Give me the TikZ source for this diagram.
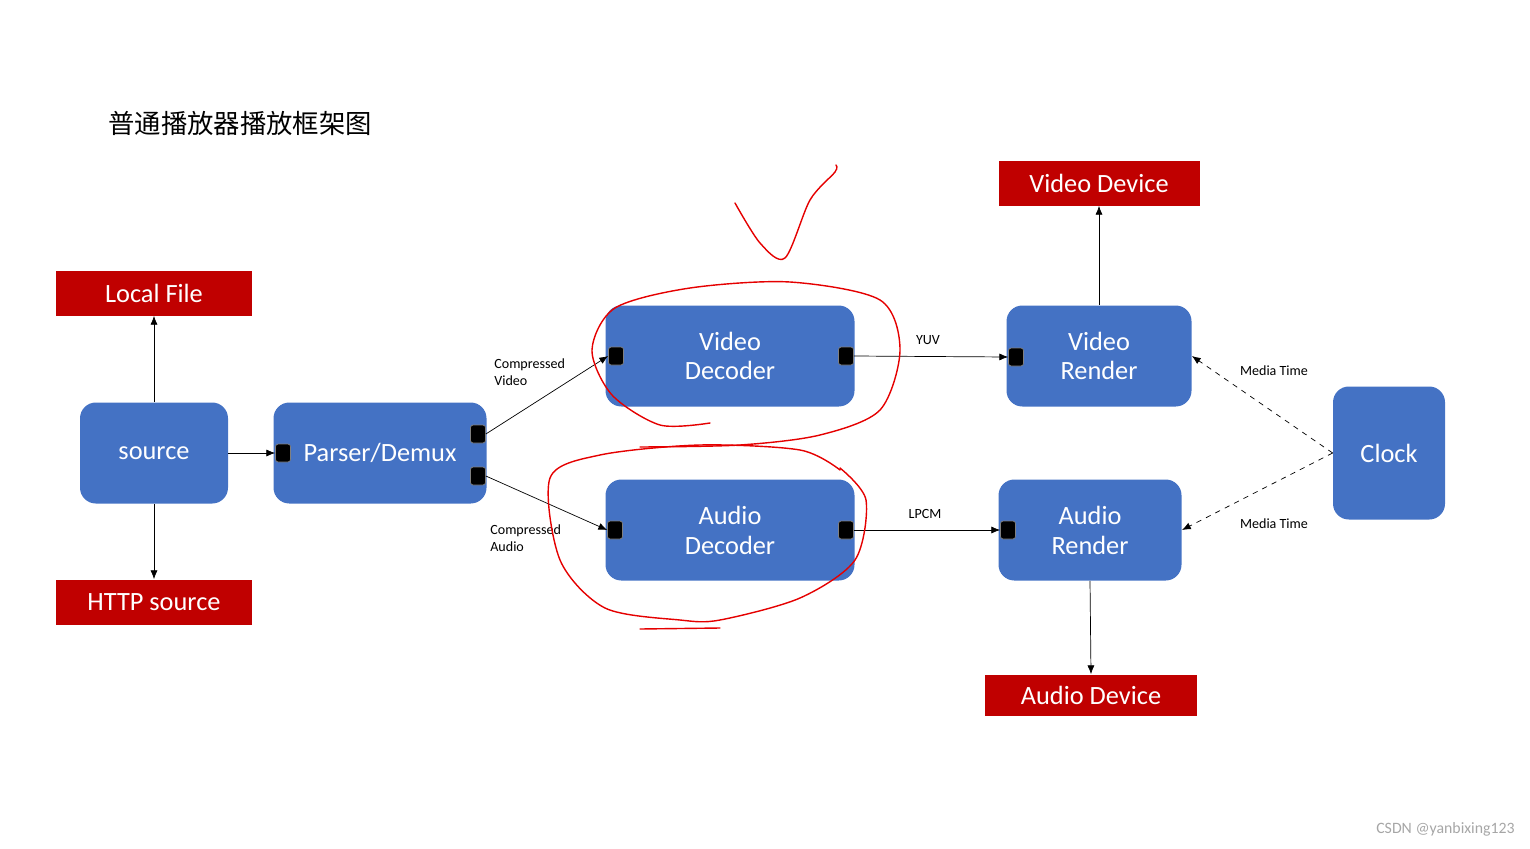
\documentclass[tikz,border=0pt]{standalone}
\usepackage{fontspec}
\setmainfont{Carlito}
\newfontfamily\cjk{Noto Sans CJK SC}
\usetikzlibrary{arrows.meta}
\definecolor{bl}{HTML}{4472C4}
\definecolor{rd}{HTML}{C00000}
\begin{document}
\begin{tikzpicture}[x=0.02cm,y=-0.02cm,
 blue/.style={fill=bl,rounded corners=9pt,text=white,font=\fontsize{15}{17}\selectfont,align=center,inner sep=0pt},
 red/.style={fill=rd,text=white,font=\fontsize{15}{17}\selectfont,inner sep=0pt},
 sq/.style={fill=black,draw=gray,rounded corners=1.5pt,minimum width=0.3cm,minimum height=0.36cm,inner sep=0pt},
 lab/.style={font=\fontsize{8}{9.5}\selectfont,align=left,inner sep=0pt},
 arr/.style={-{Latex[length=5pt,width=4pt]},thin},
 hand/.style={red!90!black,thick,line cap=round,line join=round}]
\useasboundingbox (0,0) rectangle (1530,848);
\node[anchor=west,font=\cjk\fontsize{15}{17}\selectfont,inner sep=0pt] (title) at (108,123) {普通播放器播放框架图};
\node[red,minimum width=196*0.02cm,minimum height=45*0.02cm] (lf) at (154,293) {Local File};
\node[red,minimum width=196*0.02cm,minimum height=45*0.02cm] (http) at (154,602) {HTTP source};
\node[red,minimum width=201*0.02cm,minimum height=45*0.02cm] (vdev) at (1099,183) {Video Device};
\node[red,minimum width=212*0.02cm,minimum height=41*0.02cm] (adev) at (1091,695) {Audio Device};
\node[blue,minimum width=148*0.02cm,minimum height=101*0.02cm] (src) at (154,453) {source};
\node[blue,minimum width=213*0.02cm,minimum height=101*0.02cm] (pd) at (380,453) {Parser/Demux};
\node[blue,minimum width=249*0.02cm,minimum height=101*0.02cm] (vd) at (730,356) {Video\\Decoder};
\node[blue,minimum width=249*0.02cm,minimum height=101*0.02cm] (ad) at (730,530) {Audio\\Decoder};
\node[blue,minimum width=185*0.02cm,minimum height=101*0.02cm] (vr) at (1099,356) {Video\\Render};
\node[blue,minimum width=183*0.02cm,minimum height=101*0.02cm] (ar) at (1090,530) {Audio\\Render};
\node[blue,minimum width=112*0.02cm,minimum height=133*0.02cm] (clk) at (1389,453) {Clock};
\node[sq] (s0) at (283,453) {};
\node[sq] (p1) at (478,434) {};
\node[sq] (p2) at (478,476) {};
\node[sq] (vdi) at (616,356) {};
\node[sq] (vdo) at (846,356) {};
\node[sq] (adi) at (615,530) {};
\node[sq] (ado) at (846,530) {};
\node[sq] (vri) at (1016,357) {};
\node[sq] (ari) at (1008,530) {};
\draw[arr] (src.north) -- (lf.south);
\draw[arr] (src.south) -- (http.north);
\draw[arr] (src.east) -- (s0.west);
\draw[arr] (p1.east) -- (vdi.west);
\draw[arr] (p2.east) -- (adi.west);
\draw[arr] (vdo.east) -- (vri.west);
\draw[arr] (ado.east) -- (ari.west);
\draw[arr] (vr.north) -- (vdev.south);
\draw[arr] (ar.south) -- (adev.north);
\draw[arr,dashed] (clk.west) -- (vr.north east |- 356,356);
\draw[arr,dashed] (clk.west) -- (1182,530);
\node[lab,anchor=west] (cv) at (494,372) {Compressed\\Video};
\node[lab,anchor=west] (ca) at (490,538) {Compressed\\Audio};
\node[lab] (yuv) at (928,340) {YUV};
\node[lab] (lpcm) at (925,514) {LPCM};
\node[lab] (mt1) at (1274,371) {Media Time};
\node[lab] (mt2) at (1274,524) {Media Time};
\node[anchor=east,text=gray!70,font=\fontsize{9}{10}\selectfont,inner sep=0pt] (wm) at (1515,829) {CSDN @yanbixing123};
\draw[hand] plot[smooth] coordinates {(735,203) (760,243) (785,258) (810,200) (835,172) (836,165)};
\draw[hand] plot[smooth] coordinates {(710,423) (660,425) (612,395) (592,350) (615,308) (690,288) (790,282) (880,300) (900,350) (880,410) (820,435) (740,445) (640,447)};
\draw[hand] plot[smooth] coordinates {(840,470) (800,450) (700,445) (600,455) (550,478) (560,560) (605,608) (680,620) (720,620) (800,598) (855,560) (866,500) (840,468)};
\draw[hand] (640,629) -- (720,628);
\end{tikzpicture}
\end{document}
